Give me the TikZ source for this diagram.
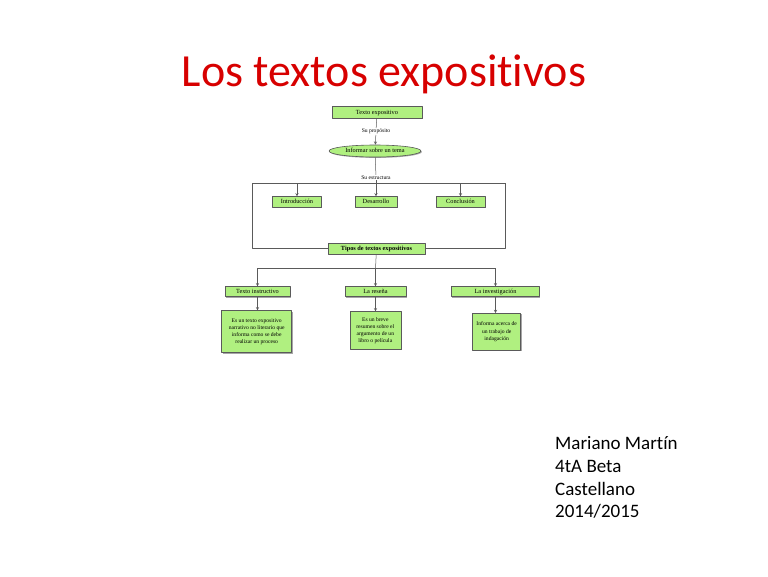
\documentclass[tikz,border=0pt]{standalone}
\usepackage{fontspec}
\setmainfont{Carlito}[Ligatures=NoCommon]
\newfontfamily\boxfont{Liberation Serif}
\usetikzlibrary{shapes.geometric,shadows}
\definecolor{titlered}{RGB}{215,0,0}
\definecolor{boxgreen}{RGB}{176,240,128}
\definecolor{linegray}{RGB}{90,90,90}
\tikzset{
  cbox/.style={draw=linegray, fill=boxgreen, line width=0.6pt, inner sep=0pt,
    font=\boxfont\fontsize{6.3}{7}\selectfont, align=center, text height=4.3pt, text depth=1.3pt,
    drop shadow={shadow xshift=0.9pt, shadow yshift=-0.9pt, fill=gray!70, opacity=1}},
  dbox/.style={cbox, font=\boxfont\fontsize{5.6}{7.2}\selectfont, text height=, text depth=},
  lab/.style={font=\boxfont\fontsize{5.6}{6}\selectfont, inner sep=0.6pt, fill=white},
  conn/.style={draw=linegray, line width=0.5pt},
}
\begin{document}
\begin{tikzpicture}[x=1pt, y=-1pt, line join=round, >=stealth]
  \useasboundingbox (0,0) rectangle (768,576);
  % title and author
  \node[text=titlered, font=\fontsize{46}{52}\selectfont, anchor=base] (title) at (384,86) {Los textos expositivos};
  \node[anchor=north west, align=left, font=\fontsize{19}{22.7}\selectfont, inner sep=0pt] (author) at (555,436.5)
    {Mariano Martín\\4tA Beta\\Castellano\\2014/2015};
  % top part
  \node[cbox, minimum width=90pt, minimum height=11.5pt] (te) at (377,112.5) {Texto expositivo};
  \node[lab] (prop) at (376,131.5) {Su propósito};
  \node[cbox, ellipse, minimum width=92pt, minimum height=12pt] (ell) at (375,151) {Informar sobre un tema};
  \node[lab] (est) at (376,177.5) {Su estructura};
  \coordinate (hl) at (252,183.3);
  \coordinate (hr) at (505,183.3);
  \node[cbox, minimum width=49pt, minimum height=10.5pt] (intro) at (297,202) {Introducción};
  \node[cbox, minimum width=42pt, minimum height=10.5pt] (des) at (376,202) {Desarrollo};
  \node[cbox, minimum width=49pt, minimum height=10.5pt] (con) at (460.5,202) {Conclusión};
  \node[cbox, minimum width=97pt, minimum height=10.7pt, font=\boxfont\bfseries\fontsize{6.3}{7}\selectfont] (tipos) at (376.5,248.7) {Tipos de textos expositivos};
  \draw[conn] (te) -- (prop);
  \draw[conn,->] (prop) -- (ell);
  \draw[conn] (ell) -- (est);
  \draw[conn] (est) -- (376,183.3);
  \draw[conn] (hl) -- (hr);
  \draw[conn,->] (297,183.3) -- (intro);
  \draw[conn,->] (376,183.3) -- (des);
  \draw[conn,->] (460.5,183.3) -- (con);
  \draw[conn] (hl) -- (252,248.7) -- (tipos.west);
  \draw[conn] (hr) -- (505,248.7) -- (tipos.east);
  % types
  \coordinate (tl) at (257.5,268.3);
  \coordinate (tr) at (495.5,268.3);
  \node[cbox, minimum width=65pt, minimum height=10pt] (ti) at (257.5,291.7) {Texto instructivo};
  \node[cbox, minimum width=61pt, minimum height=10pt] (res) at (375.5,291.7) {La reseña};
  \node[cbox, minimum width=88pt, minimum height=10pt] (inv) at (495.5,291.7) {La investigación};
  \node[dbox, minimum width=70pt, minimum height=42pt] (d1) at (256.7,331.7)
    {Es un texto expositivo\\narrativo no literario que\\informa como se debe\\realizar un proceso};
  \node[dbox, minimum width=51pt, minimum height=37.6pt] (d2) at (375.3,330.5)
    {Es un breve\\resumen sobre el\\argumento de un\\libro o película};
  \node[dbox, minimum width=48pt, minimum height=36.7pt] (d3) at (496.7,331.7)
    {Informa acerca de\\un trabajo de\\indagación};
  \draw[conn] (tipos) -- (375.5,268.3);
  \draw[conn] (tl) -- (tr);
  \draw[conn,->] (tl) -- (ti);
  \draw[conn,->] (375.5,268.3) -- (res);
  \draw[conn,->] (tr) -- (inv);
  \draw[conn,->] (ti.south) -- (ti.south |- d1.north);
  \draw[conn,->] (res.south) -- (res.south |- d2.north);
  \draw[conn,->] (inv.south) -- (inv.south |- d3.north);
\end{tikzpicture}
\end{document}
